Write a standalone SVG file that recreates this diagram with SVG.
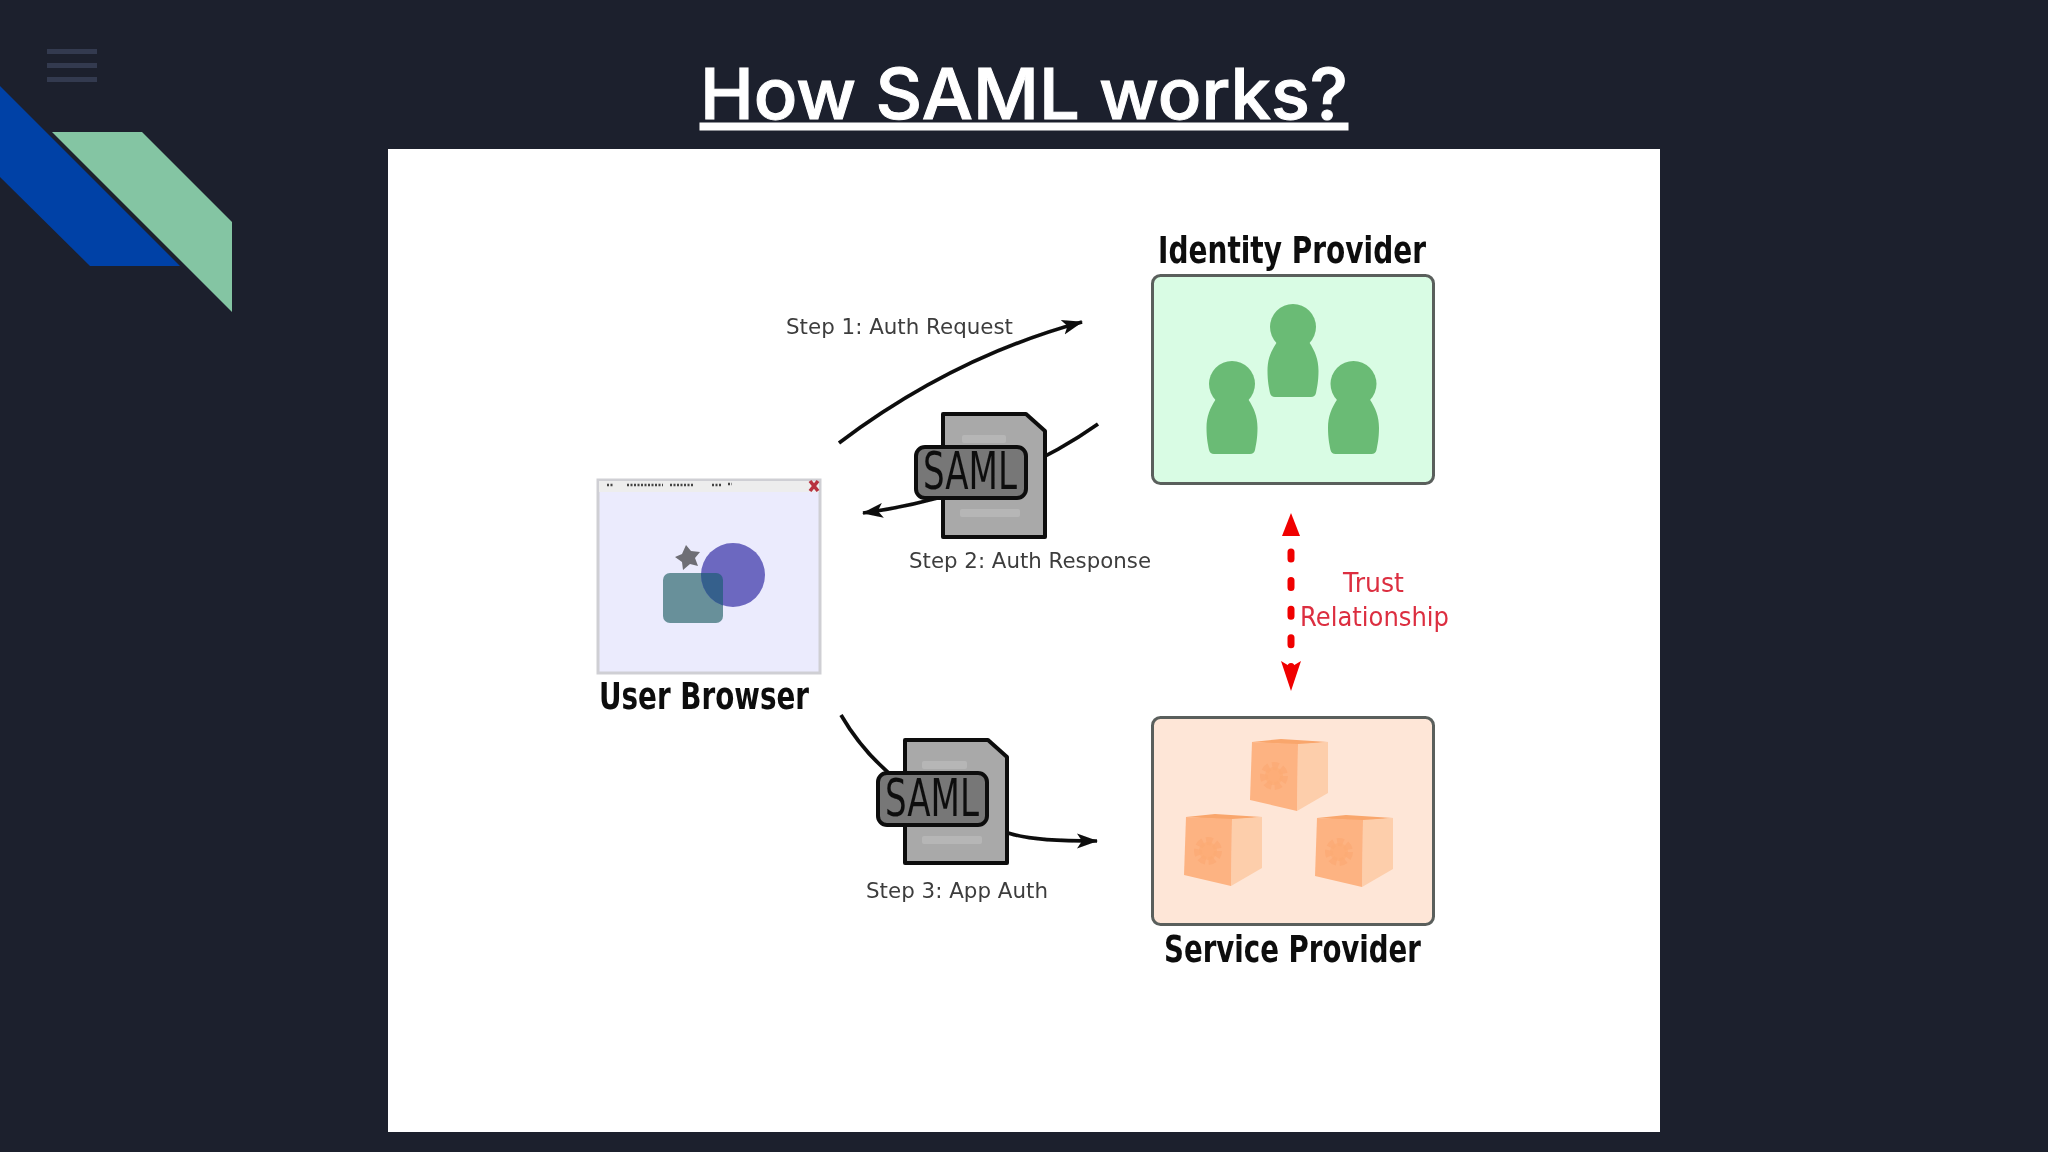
<svg xmlns="http://www.w3.org/2000/svg" width="2048" height="1152" viewBox="0 0 2048 1152">
<defs>
<style>
text{font-family:"DejaVu Sans","Liberation Sans",sans-serif}
.step{font-size:22px;fill:#3d3d3d}
.head{font-size:38px;font-weight:700;fill:#0c0c0c}
.trust{font-size:27px;fill:#dc2f40}
.saml{font-size:51px;fill:#111}
.doc{fill:#a9a9a9;stroke:#111;stroke-width:4;stroke-linejoin:round}
.bar{fill:#b6b6b6}
.badge{fill:#777;stroke:#111;stroke-width:4}
.conn{fill:none;stroke:#0c0c0c;stroke-width:3.700}
.person{fill:#6bbb74}
.front{fill:#fdb382}
.side{fill:#fdceab}
.lid{fill:#f9a66c}
.gear{fill:none;stroke:#fcac78;stroke-width:8;stroke-dasharray:6 3}
.gearc{fill:#fcab74}
#connectors,#user-browser,#identity-provider,#service-provider,#saml-response,#saml-assertion,#labels{filter:url(#soft)}
</style>
<filter id="soft" x="-5%" y="-5%" width="110%" height="110%"><feGaussianBlur stdDeviation="0.6"/></filter>
<marker id="ah" markerUnits="userSpaceOnUse" markerWidth="24" markerHeight="18" refX="20" refY="9" orient="auto"><path d="M21 9L0 1.500L5 9L0 16.500Z" fill="#0c0c0c"/></marker>
<clipPath id="overlap"><rect x="662" y="573" width="61" height="50" rx="7"/></clipPath>
</defs>
<rect width="2048" height="1152" fill="#1c202d"/>
<g id="decor">
<rect x="47" y="49" width="50" height="5" fill="#333a4f"/>
<rect x="47" y="63" width="50" height="5" fill="#333a4f"/>
<rect x="47" y="77" width="50" height="5" fill="#333a4f"/>
<polygon points="0,86 180,266 90,266 0,177" fill="#0041a6"/>
<polygon points="52,132 142,132 232,222 232,312" fill="#84c5a3"/>
</g>
<text id="title" x="1024" y="119" text-anchor="middle" textLength="648" lengthAdjust="spacingAndGlyphs" style="font-family:Inter,'Liberation Sans',sans-serif;font-size:70px;font-weight:500;fill:#fff;stroke:#fff;stroke-width:1;text-decoration:underline">How SAML works?</text>
<rect x="388" y="149" width="1272" height="983" fill="#fff"/>
<g id="connectors">
<path class="conn" d="M839 443Q953 357 1082 322" marker-end="url(#ah)"/>
<path class="conn" d="M1098 424C1040 465 960 500 863 513" marker-end="url(#ah)"/>
<path class="conn" d="M841 715C870 765 920 810 1008 833C1030 840 1060 841 1097 841" marker-end="url(#ah)"/>
<path d="M1291 552V672" fill="none" stroke="#f00000" stroke-width="7" stroke-linecap="round" stroke-dasharray="7 21.6"/>
<polygon points="1291,513 1300,536 1282,536" fill="#f00000"/>
<polygon points="1291,691 1281,661 1291,667 1301,661" fill="#f00000"/>
</g>
<g id="user-browser">
<rect x="598" y="480" width="222" height="193" fill="#ebebfd" stroke="#cfcfd4" stroke-width="3"/>
<rect x="599" y="481" width="220" height="11" fill="#ededed"/>
<path d="M607 485h6M627 485h36M670 485h24M712 485h10M728 484h4" stroke="#444" stroke-width="2.500" stroke-dasharray="2 1.500" fill="none"/>
<path d="M810 481L818 491M818 481L810 491" stroke="#b8323f" stroke-width="3.600"/>
<polygon points="686,545 691,551 700,552 695,558 698,566 690,564 683,570 682,562 675,557 682,554" fill="#6e6e74"/>
<rect x="663" y="573" width="60" height="50" rx="7" fill="#67909a"/>
<circle cx="733" cy="575" r="32" fill="#6c67c0"/>
<circle cx="733" cy="575" r="32" fill="#35608c" clip-path="url(#overlap)"/>
<text class="head" x="599" y="709" textLength="210" lengthAdjust="spacingAndGlyphs">User Browser</text>
</g>
<g id="identity-provider">
<rect x="1152.500" y="275.500" width="281" height="208" rx="8" fill="#d9fce4" stroke="#5a5f5c" stroke-width="3"/>
<g id="idp-people">
<g class="person" transform="translate(1293 327)"><circle r="23"/><path d="M-16 15H16C22 24 25.500 32 25.500 44C25.500 54 24 61 23 66Q22 70 18 70H-18Q-22 70-23 66C-24 61-25.500 54-25.500 44C-25.500 32-22 24-16 15Z"/></g>
<g class="person" transform="translate(1232 384)"><circle r="23"/><path d="M-16 15H16C22 24 25.500 32 25.500 44C25.500 54 24 61 23 66Q22 70 18 70H-18Q-22 70-23 66C-24 61-25.500 54-25.500 44C-25.500 32-22 24-16 15Z"/></g>
<g class="person" transform="translate(1353.500 384)"><circle r="23"/><path d="M-16 15H16C22 24 25.500 32 25.500 44C25.500 54 24 61 23 66Q22 70 18 70H-18Q-22 70-23 66C-24 61-25.500 54-25.500 44C-25.500 32-22 24-16 15Z"/></g>
</g>
<text class="head" x="1158" y="263" textLength="268" lengthAdjust="spacingAndGlyphs">Identity Provider</text>
</g>
<g id="service-provider">
<rect x="1152.500" y="717.500" width="281" height="207" rx="8" fill="#fee6d7" stroke="#5a5f5c" stroke-width="3"/>
<g id="box1" transform="translate(1 0)">
<polygon class="lid" points="1251,742 1280,739 1327,742 1297,745"/>
<polygon class="side" points="1297,744 1327,742 1327,793 1296,811"/>
<polygon class="front" points="1251,742 1297,744 1296,811 1249,800"/>
<circle class="gear" cx="1273" cy="776" r="10"/><circle class="gearc" cx="1273" cy="776" r="9" opacity=".7"/>
</g>
<g id="box2" transform="translate(-65 75)">
<polygon class="lid" points="1251,742 1280,739 1327,742 1297,745"/>
<polygon class="side" points="1297,744 1327,742 1327,793 1296,811"/>
<polygon class="front" points="1251,742 1297,744 1296,811 1249,800"/>
<circle class="gear" cx="1273" cy="776" r="10"/><circle class="gearc" cx="1273" cy="776" r="9" opacity=".7"/>
</g>
<g id="box3" transform="translate(66 76)">
<polygon class="lid" points="1251,742 1280,739 1327,742 1297,745"/>
<polygon class="side" points="1297,744 1327,742 1327,793 1296,811"/>
<polygon class="front" points="1251,742 1297,744 1296,811 1249,800"/>
<circle class="gear" cx="1273" cy="776" r="10"/><circle class="gearc" cx="1273" cy="776" r="9" opacity=".7"/>
</g>
<text class="head" x="1164" y="962" textLength="257" lengthAdjust="spacingAndGlyphs">Service Provider</text>
</g>
<g id="saml-response">
<path class="doc" d="M943 414H1026L1045 431V537H943Z"/>
<rect class="bar" x="962" y="435" width="44" height="8" rx="2"/>
<rect class="bar" x="960" y="509" width="60" height="8" rx="2"/>
<rect class="badge" x="916" y="447" width="110" height="51" rx="9"/>
<text class="saml" x="923" y="489" textLength="94" lengthAdjust="spacingAndGlyphs">SAML</text>
</g>
<g id="saml-assertion">
<path class="doc" d="M905 740H988L1007 757V863H905Z"/>
<rect class="bar" x="922" y="761" width="45" height="8" rx="2"/>
<rect class="bar" x="922" y="836" width="60" height="8" rx="2"/>
<rect class="badge" x="878" y="773" width="109" height="52" rx="9"/>
<text class="saml" x="885" y="816" textLength="94" lengthAdjust="spacingAndGlyphs">SAML</text>
</g>
<g id="labels">
<text class="step" x="786" y="334" textLength="227" lengthAdjust="spacingAndGlyphs">Step 1: Auth Request</text>
<text class="step" x="909" y="568" textLength="242" lengthAdjust="spacingAndGlyphs">Step 2: Auth Response</text>
<text class="step" x="866" y="898" textLength="182" lengthAdjust="spacingAndGlyphs">Step 3: App Auth</text>
<text class="trust" x="1343" y="592" textLength="61" lengthAdjust="spacingAndGlyphs">Trust</text>
<text class="trust" x="1300" y="626" textLength="149" lengthAdjust="spacingAndGlyphs">Relationship</text>
</g>
</svg>
